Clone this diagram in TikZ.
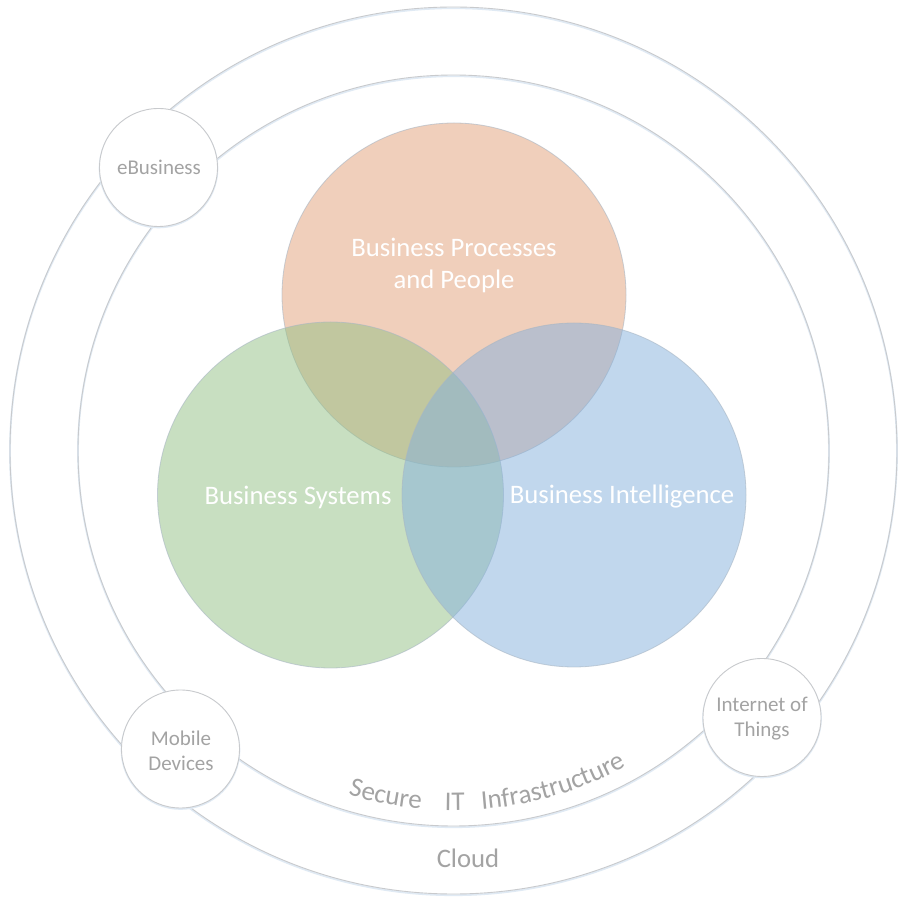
\documentclass[tikz,border=0pt]{standalone}
\usepackage{fontspec}
\setmainfont{Carlito}
\usetikzlibrary{decorations.text}
\definecolor{ringgray}{HTML}{C8CACD}
\definecolor{shadowblue}{HTML}{E0EAF4}
\definecolor{txtgray}{HTML}{A3A3A3}
\definecolor{vorange}{HTML}{E3A179}
\definecolor{vgreen}{HTML}{93C185}
\definecolor{vblue}{HTML}{85B1DD}
\definecolor{vedge}{HTML}{A8B6C4}
\tikzset{
  ring/.style={circle, draw=ringgray, line width=0.9pt, inner sep=0pt, fill=none},
  ringshadow/.style={circle, draw=shadowblue, line width=1.8pt, inner sep=0pt},
  venn/.style={circle, inner sep=0pt, minimum size=344pt, fill opacity=0.5, draw=vedge, draw opacity=0.6, line width=0.8pt},
  bubble/.style={circle, draw=ringgray, fill=white, line width=0.9pt, inner sep=0pt, minimum size=118pt},
  vlabel/.style={text=white, font=\fontsize{26.7}{32}\selectfont, align=center},
  blabel/.style={text=txtgray, font=\fontsize{21}{25}\selectfont, align=center},
}
\begin{document}
\begin{tikzpicture}[x=1pt,y=1pt]
\useasboundingbox (0,0) rectangle (908,903);
\fill[white] (0,0) rectangle (908,903);
% rings
\node[ringshadow, minimum size=887pt] (outershadow) at (453.5,451.3) {};
\node[ringshadow, minimum size=751pt] (innershadow) at (453.5,451.3) {};
\node[ring, minimum size=887pt] (outer) at (453.5,452.5) {};
\node[ring, minimum size=751pt] (inner) at (453.5,452.5) {};
% venn circles
\node[venn, fill=vorange] (bpp) at (454,608) {};
\node[venn, fill=vgreen, minimum size=346pt] (bs) at (330.5,408) {};
\node[venn, fill=vblue] (bi) at (574,408) {};
\node[vlabel] (bpptxt) at (454,638) {Business Processes\\and People};
\node[vlabel] (bstxt) at (298,406) {Business Systems};
\node[vlabel] (bitxt) at (622,406) {Business Intelligence};
% bubbles
\node[circle, draw=shadowblue, line width=1.6pt, minimum size=118pt, inner sep=0pt] (ebshadow) at (158.5,734.5) {};
\node[circle, draw=shadowblue, line width=1.6pt, minimum size=118pt, inner sep=0pt] (mdshadow) at (180.5,153) {};
\node[circle, draw=shadowblue, line width=1.6pt, minimum size=118pt, inner sep=0pt] (iotshadow) at (762,184.5) {};
\node[bubble] (eb) at (158.5,735.5) {};
\node[bubble] (md) at (180.5,154) {};
\node[bubble] (iot) at (762,185.5) {};
\node[blabel] (ebtxt) at (159,736) {eBusiness};
\node[blabel] (mdtxt) at (181,152) {Mobile\\Devices};
\node[blabel] (iottxt) at (762,184) {Internet of\\Things};
% ring labels
\node[text=txtgray, font=\fontsize{26.7}{30}\selectfont] (cloud) at (468,45) {Cloud};
\path[decorate, decoration={text along path, text color=txtgray,
  text={|\fontsize{27}{30}\selectfont|Secure}}]
  ([shift={(453.5,452.5)}]253:360pt) arc[start angle=253, end angle=268, radius=360pt];
\path[decorate, decoration={text along path, text color=txtgray,
  text={|\fontsize{27}{30}\selectfont|IT}}]
  ([shift={(453.5,452.5)}]268.6:360pt) arc[start angle=268.6, end angle=274.3, radius=360pt];
\path[decorate, decoration={text along path, text color=txtgray,
  text={|\fontsize{27}{30}\selectfont|Infrastructure}}]
  ([shift={(453.5,452.5)}]274.5:360pt) arc[start angle=274.5, end angle=302, radius=360pt];
\end{tikzpicture}
\end{document}
